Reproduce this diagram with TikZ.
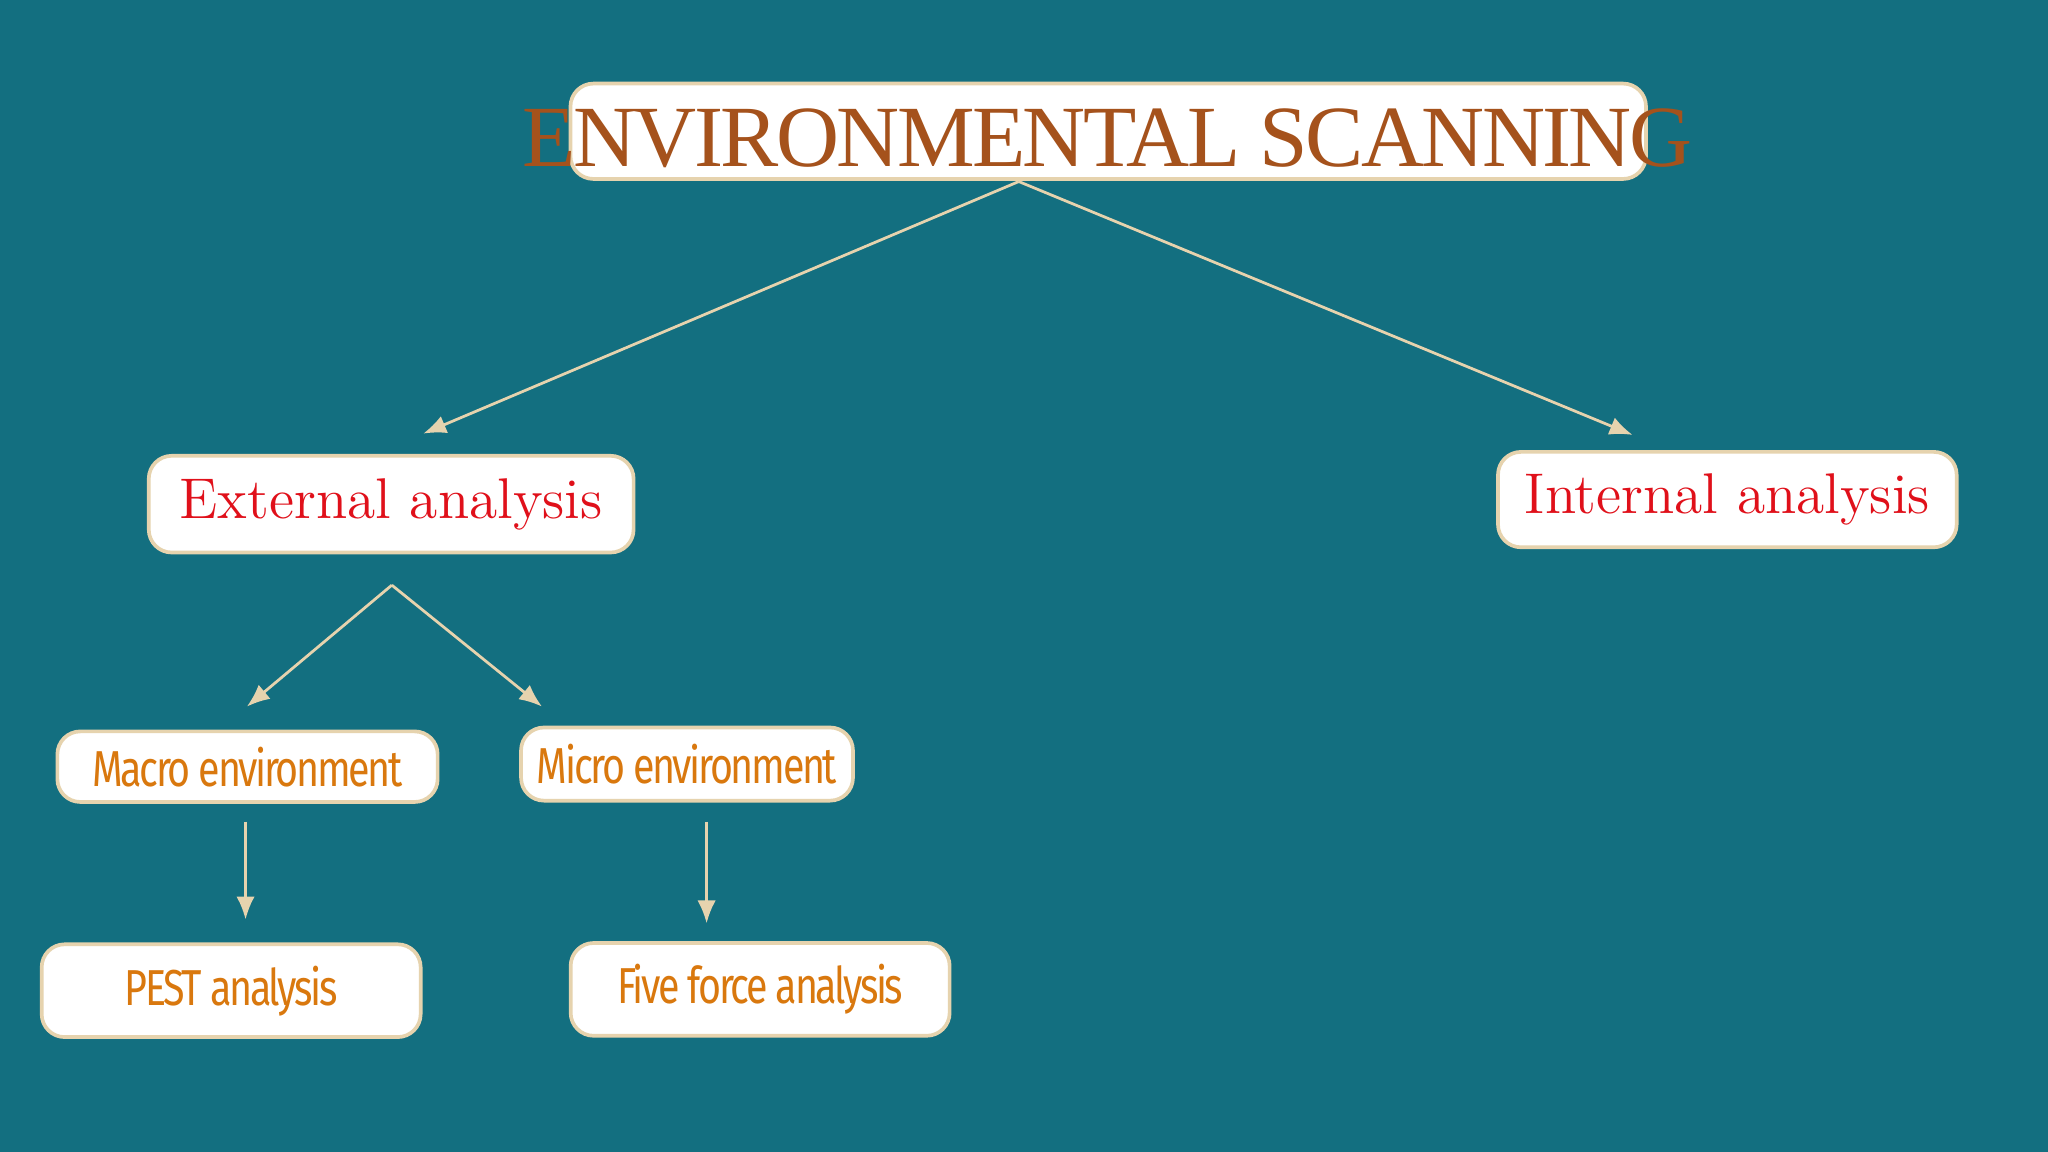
\documentclass[tikz,border=0pt]{standalone}
\usepackage{fontspec}
\setmainfont{Liberation Serif}
\newfontfamily\titlefont{Liberation Serif}
\newfontfamily\lmfont{Latin Modern Roman}
\newfontfamily\condfont{Fira Sans}
\usetikzlibrary{arrows.meta}
\definecolor{bg}{HTML}{136F80}
\definecolor{edge}{HTML}{E6D3AE}
\definecolor{brown}{HTML}{A5521C}
\definecolor{redtxt}{HTML}{E0101A}
\definecolor{orangetxt}{HTML}{D9780E}
\begin{document}
\begin{tikzpicture}[x=0.01cm,y=-0.01cm,
  box/.style={draw=edge,line width=0.8pt,fill=white,rounded corners=5pt,inner sep=0pt},
  conn/.style={draw=edge,line width=0.6pt,-{Latex[length=5pt,width=4pt]}},
  cond/.style={text=orangetxt,font=\condfont\fontsize{11}{13}\selectfont\addfontfeatures{LetterSpace=-6}}]
\fill[bg] (0,0) rectangle (1568,882);
\useasboundingbox (0,0) rectangle (1568,882);
\node[box,minimum width=823\pgflinewidth*0+8.23cm,minimum height=0.73cm] (title) at (848.5,100.5) {};
\node[text=brown,font=\titlefont\fontsize{19}{22}\selectfont\addfontfeatures{LetterSpace=-3}] (tt) at (848,106) {ENVIRONMENTAL SCANNING};
\node[box,minimum width=3.71cm,minimum height=0.74cm,text=redtxt,font=\lmfont\fontsize{12.5}{15}\selectfont] (ext) at (299.5,386) {External analysis};
\node[box,minimum width=3.51cm,minimum height=0.73cm,text=redtxt,font=\lmfont\fontsize{12.5}{15}\selectfont] (int) at (1322.5,382.5) {Internal analysis};
\node[box,minimum width=2.91cm,minimum height=0.54cm,cond] (macro) at (189.5,587) {\scalebox{0.78}[1]{Macro environment}};
\node[box,minimum width=2.54cm,minimum height=0.56cm,cond] (micro) at (526,585) {\scalebox{0.78}[1]{Micro environment}};
\node[box,minimum width=2.90cm,minimum height=0.71cm,cond] (pest) at (177,758.5) {\scalebox{0.78}[1]{PEST analysis}};
\node[box,minimum width=2.90cm,minimum height=0.71cm,cond] (five) at (582,757.5) {\scalebox{0.78}[1]{Five force analysis}};
\coordinate (top) at (780,139);
\coordinate (a1) at (324,332);
\coordinate (a2) at (1250,333);
\coordinate (ebot) at (300,448);
\coordinate (b1) at (189,541);
\coordinate (b2) at (415,541);
\coordinate (mt) at (188,629);
\coordinate (mb) at (188,704);
\coordinate (ct) at (541,629);
\coordinate (cb) at (541,707);
\draw[conn] (top) -- (a1);
\draw[conn] (top) -- (a2);
\draw[conn] (ebot) -- (b1);
\draw[conn] (ebot) -- (b2);
\draw[conn] (mt) -- (mb);
\draw[conn] (ct) -- (cb);
\end{tikzpicture}
\end{document}
